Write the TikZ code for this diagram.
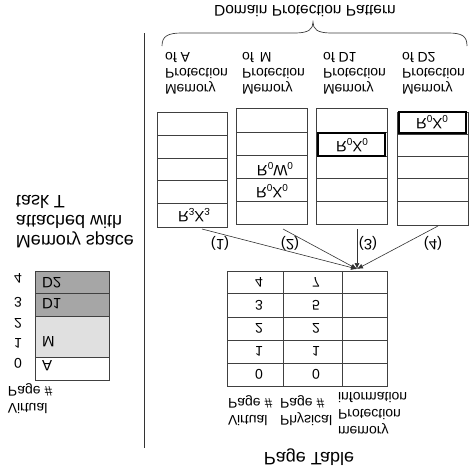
\documentclass[tikz,border=0pt]{standalone}
\usepackage{fontspec}
\setmainfont{Liberation Sans}
\usetikzlibrary{arrows.meta}
\begin{document}
\begin{tikzpicture}[x=1pt,y=1pt,yscale=-1,
  every node/.style={transform shape, inner sep=0pt, outer sep=0pt},
  ln/.style={draw=black!75, line width=0.7pt},
  thickbox/.style={draw=black, line width=2.6pt},
  lab/.style={font=\fontsize{14}{16}\selectfont, align=left, anchor=west},
  biglab/.style={font=\fontsize{18}{20}\selectfont, align=left, anchor=west},
  tbl/.style={font=\fontsize{14}{17}\selectfont, align=left, anchor=west},
  num/.style={font=\fontsize{14}{14}\selectfont},
  perm/.style={font=\fontsize{15}{15}\selectfont},
  conn/.style={draw=black!80, line width=0.6pt, -{Latex[length=6pt,width=5pt]}}]
\useasboundingbox[fill=white] (0,0) rectangle (474,474);
\newcommand{\sm}[1]{\raisebox{-3pt}{\fontsize{10}{10}\selectfont #1}}
% title and brace
\node[font=\fontsize{15.5}{16}\selectfont] (title) at (305,11) {Domain Protection Pattern};
\draw[ln] (162,46) .. controls (162,36) and (168,33) .. (182,33) -- (295,33)
  .. controls (309,33) and (313,29) .. (313,22)
  .. controls (313,29) and (317,33) .. (331,33) -- (448,33)
  .. controls (462,33) and (467,36) .. (467,46);
% column labels
\node[lab] (lA) at (165,73) {Memory\\Protection\\of A};
\node[lab] (lM) at (242,73) {Memory\\Protection\\of\, M};
\node[lab] (lD1) at (323,73) {Memory\\Protection\\of D1};
\node[lab] (lD2) at (402,73) {Memory\\Protection\\of D2};
% columns
\draw[ln] (157,112) rectangle (227,227);
\foreach \y in {135,158,180,203} \draw[ln] (157,\y) -- (227,\y);
\draw[ln] (236,108) rectangle (307,224);
\foreach \y in {132,155,178,201} \draw[ln] (236,\y) -- (307,\y);
\draw[ln] (316,108) rectangle (387,224);
\foreach \y in {132,156,178,201} \draw[ln] (316,\y) -- (387,\y);
\draw[ln] (397,112) rectangle (468,225);
\foreach \y in {134,156,178,201} \draw[ln] (397,\y) -- (468,\y);
\draw[thickbox] (318,133) rectangle (385,156);
\draw[thickbox] (399,112) rectangle (466,133);
\node[perm] (pA) at (194,215) {R\sm{3}X\sm{3}};
\node[perm] (pM1) at (275,169) {R\sm{0}W\sm{0}};
\node[perm] (pM2) at (272,191) {R\sm{0}X\sm{0}};
\node[perm] (pD1) at (352,145) {R\sm{0}X\sm{0}};
\node[perm] (pD2) at (432,122) {R\sm{0}X\sm{0}};
% connectors
\coordinate (b1) at (202,229);
\coordinate (b2) at (283,229);
\coordinate (b3) at (357,229);
\coordinate (b4) at (438,226);
\coordinate (tip) at (357,269);
\draw[conn] (b1) -- (tip);
\draw[conn] (b2) -- (tip);
\draw[conn] (b3) -- (tip);
\draw[conn] (b4) -- (tip);
\node[perm] (n1) at (220,243) {(1)};
\node[perm] (n2) at (290,243) {(2)};
\node[perm] (n3) at (368,243) {(3)};
\node[perm] (n4) at (433,243) {(4)};
% vertical separator
\draw[draw=black!80, line width=0.9pt] (144,33) -- (144,448);
% memory space
\node[biglab] (ms) at (16,222) {Memory space\\attached with\\task T};
\fill[black!35] (35,271) rectangle (109,316);
\fill[black!12] (35,316) rectangle (109,357);
\draw[ln] (35,271) rectangle (109,380);
\foreach \y in {293,316,357} \draw[ln] (35,\y) -- (109,\y);
\node[perm, anchor=west] (d2) at (42,283) {D2};
\node[perm, anchor=west] (d1) at (42,304) {D1};
\node[perm, anchor=west] (mm) at (42,342) {M};
\node[perm, anchor=west] (aa) at (42,366) {A};
\node[num] (v4) at (18,278) {4};
\node[num] (v3) at (18,302) {3};
\node[num] (v2) at (18,323) {2};
\node[num] (v1) at (18,343) {1};
\node[num] (v0) at (18,363) {0};
\node[tbl] (vp) at (8,399) {Virtual\\Page \#};
% page table
\draw[ln] (227,271) rectangle (387,386);
\foreach \y in {293,317,340,363} \draw[ln] (227,\y) -- (387,\y);
\foreach \x in {283,342} \draw[ln] (\x,271) -- (\x,386);
\node[num] (t4a) at (259,282) {4};
\node[num] (t4b) at (316,282) {7};
\node[num] (t3a) at (259,305) {3};
\node[num] (t3b) at (316,305) {5};
\node[num] (t2a) at (259,328) {2};
\node[num] (t2b) at (316,328) {2};
\node[num] (t1a) at (259,351) {1};
\node[num] (t1b) at (316,351) {1};
\node[num] (t0a) at (259,374) {0};
\node[num] (t0b) at (316,374) {0};
\node[tbl] (pv) at (228,411) {Virtual\\Page \#};
\node[tbl] (pp) at (280,411) {Physical\\Page \#};
\node[tbl] (pm) at (338,413) {memory\\Protection\\information};
\node[font=\fontsize{18}{18}\selectfont] (pt) at (309,457) {Page Table};
\end{tikzpicture}
\end{document}
